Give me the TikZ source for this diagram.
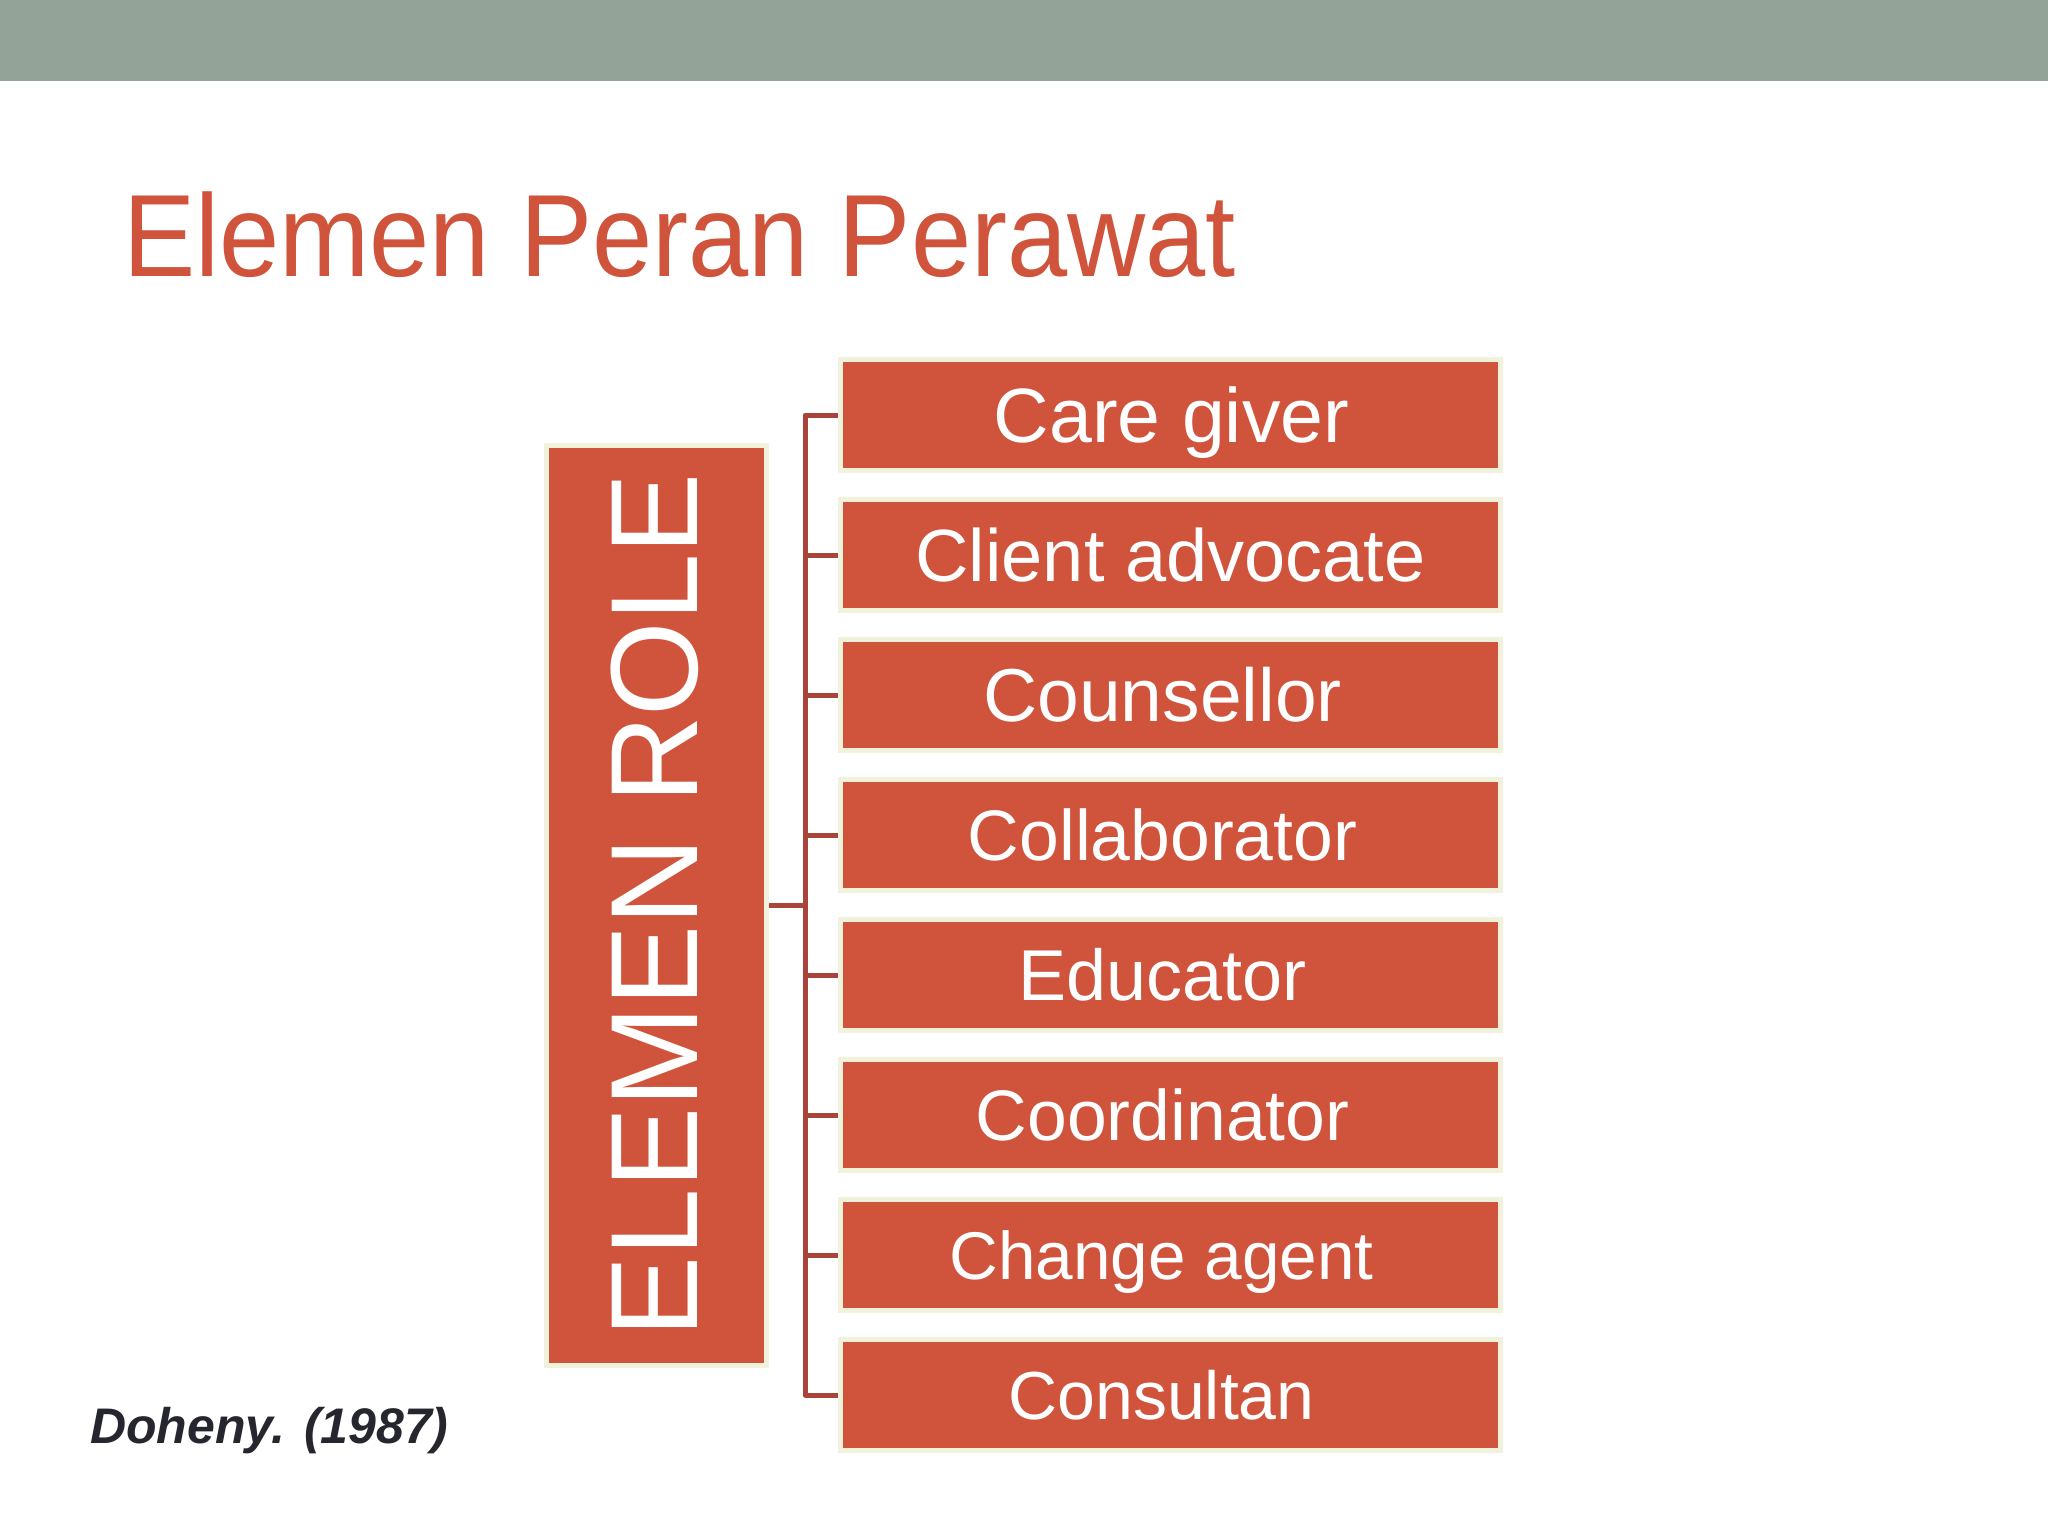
\documentclass[tikz,border=0pt]{standalone}
\usepackage{fontspec}
\setmainfont{Liberation Sans}
\newfontfamily\titlefont[FakeStretch=0.925]{Liberation Sans}
\newfontfamily\rolefont[FakeStretch=0.98]{Liberation Sans}
\usetikzlibrary{backgrounds}
\definecolor{boxred}{HTML}{D0533C}
\definecolor{cream}{HTML}{F1F1DC}
\definecolor{brk}{HTML}{A8443A}
\definecolor{barcol}{HTML}{93A398}
\definecolor{refcol}{HTML}{26262E}
\begin{document}
\begin{tikzpicture}[x=1pt,y=-1pt,
  rolebox/.style={fill=boxred, draw=cream, line width=5pt, minimum width=660pt, minimum height=111pt,
    inner sep=0pt, outer sep=0pt},
  lbl/.style 2 args={text=white, inner sep=0pt, font=\fontsize{#1}{#1}\selectfont, text height=#2pt, text depth=0pt},
  mainbox/.style={fill=boxred, draw=cream, line width=5pt, minimum width=220pt, minimum height=920pt,
    inner sep=0pt, outer sep=0pt},
  conn/.style={draw=brk, line width=5pt, line join=round}]
\useasboundingbox (0,0) rectangle (2048,1536);
\fill[barcol] (0,0) rectangle (2048,81);
\node[anchor=base west, text=boxred, font=\titlefont\fontsize{117}{120}\selectfont, inner sep=0pt] (title) at (123,276) {Elemen Peran Perawat};
\node[mainbox] (role) at (656.5,905) {};
\node[anchor=base, rotate=90, text=white, font=\rolefont\fontsize{124}{130}\selectfont, inner sep=0pt] (roletxt) at (697,905) {ELEMEN ROLE};
\node[rolebox] (b1) at (1170.5,415) {};
\node[rolebox] (b2) at (1170.5,555) {};
\node[rolebox] (b3) at (1170.5,695) {};
\node[rolebox] (b4) at (1170.5,835) {};
\node[rolebox] (b5) at (1170.5,975) {};
\node[rolebox] (b6) at (1170.5,1115) {};
\node[rolebox] (b7) at (1170.5,1255) {};
\node[rolebox] (b8) at (1170.5,1395) {};
\node[lbl={77}{55}] (t1) at ([xshift=1pt]b1.center) {Care giver};
\node[lbl={74}{53}] (t2) at ([xshift=0pt]b2.center) {Client advocate};
\node[lbl={75}{53.7}] (t3) at ([xshift=-8pt]b3.center) {Counsellor};
\node[lbl={71.5}{51.2}] (t4) at ([xshift=-8pt]b4.center) {Collaborator};
\node[lbl={72}{51.6}] (t5) at ([xshift=-8pt]b5.center) {Educator};
\node[lbl={71.5}{51.2}] (t6) at ([xshift=-8pt]b6.center) {Coordinator};
\node[lbl={67.5}{48.3}] (t7) at ([xshift=-9pt]b7.center) {Change agent};
\node[lbl={68}{48.7}] (t8) at ([xshift=-9pt]b8.center) {Consultan};
\coordinate (spine) at (805,905);
\begin{pgfonlayer}{background}
\draw[conn] (role.east) -- (spine);
\foreach \b in {b1,b2,b3,b4,b5,b6,b7,b8}{\draw[conn] (spine) |- (\b.west);}
\end{pgfonlayer}
\node[anchor=base west, text=refcol, font=\fontsize{50}{55}\selectfont\bfseries\itshape, inner sep=0pt] (ref) at (90,1443) {Doheny. (1987)};
\end{tikzpicture}
\end{document}
